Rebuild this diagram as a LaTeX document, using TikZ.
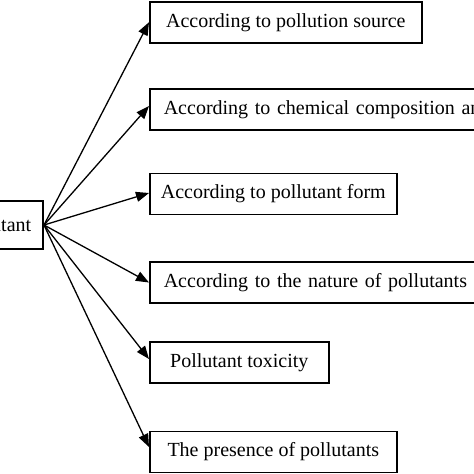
\documentclass[tikz,border=0pt]{standalone}
\usepackage{fontspec}
\setmainfont{Liberation Serif}
\usetikzlibrary{arrows.meta}
\begin{document}
\begin{tikzpicture}[x=1pt,y=-1pt,
  box/.style={draw=black, line width=1.6pt, rectangle, minimum height=41pt, inner ysep=0pt, font=\fontsize{20}{24}\selectfont, anchor=west},
  srcbox/.style={draw=black, line width=1.6pt, rectangle, minimum height=48pt, inner xsep=12pt, font=\fontsize{20}{24}\selectfont, anchor=east},
  conn/.style={line width=1.3pt, -{Triangle[length=13pt,width=10pt]}}]
\useasboundingbox (0,0) rectangle (474,474);
\clip (0,0) rectangle (474,474);
\node[srcbox] (src) at (44,225) {Pollutant};
\node[box, minimum width=272pt] (b1) at (149,22.25) {According to pollution source};
\node[box, text width=400pt, align=left, inner xsep=14pt] (b2) at (149,109.5) {According to chemical composition and};
\node[box, minimum width=247pt] (b3) at (149,194) {According to pollutant form};
\node[box, text width=320pt, align=left, inner xsep=14pt] (b4) at (149,282.5) {According to the nature of pollutants};
\node[box, minimum width=179pt] (b5) at (149,362.5) {Pollutant toxicity};
\node[box, minimum width=247pt] (b6) at (149,452) {The presence of pollutants};
\draw[conn] (src.east) -- (b1.west);
\draw[conn] (src.east) -- ([yshift=3.5pt]b2.west);
\draw[conn] (src.east) -- ([yshift=1pt]b3.west);
\draw[conn] (src.east) -- (b4.west);
\draw[conn] (src.east) -- ([yshift=3.5pt]b5.west);
\draw[conn] (src.east) -- ([yshift=5pt]b6.west);
\end{tikzpicture}
\end{document}
